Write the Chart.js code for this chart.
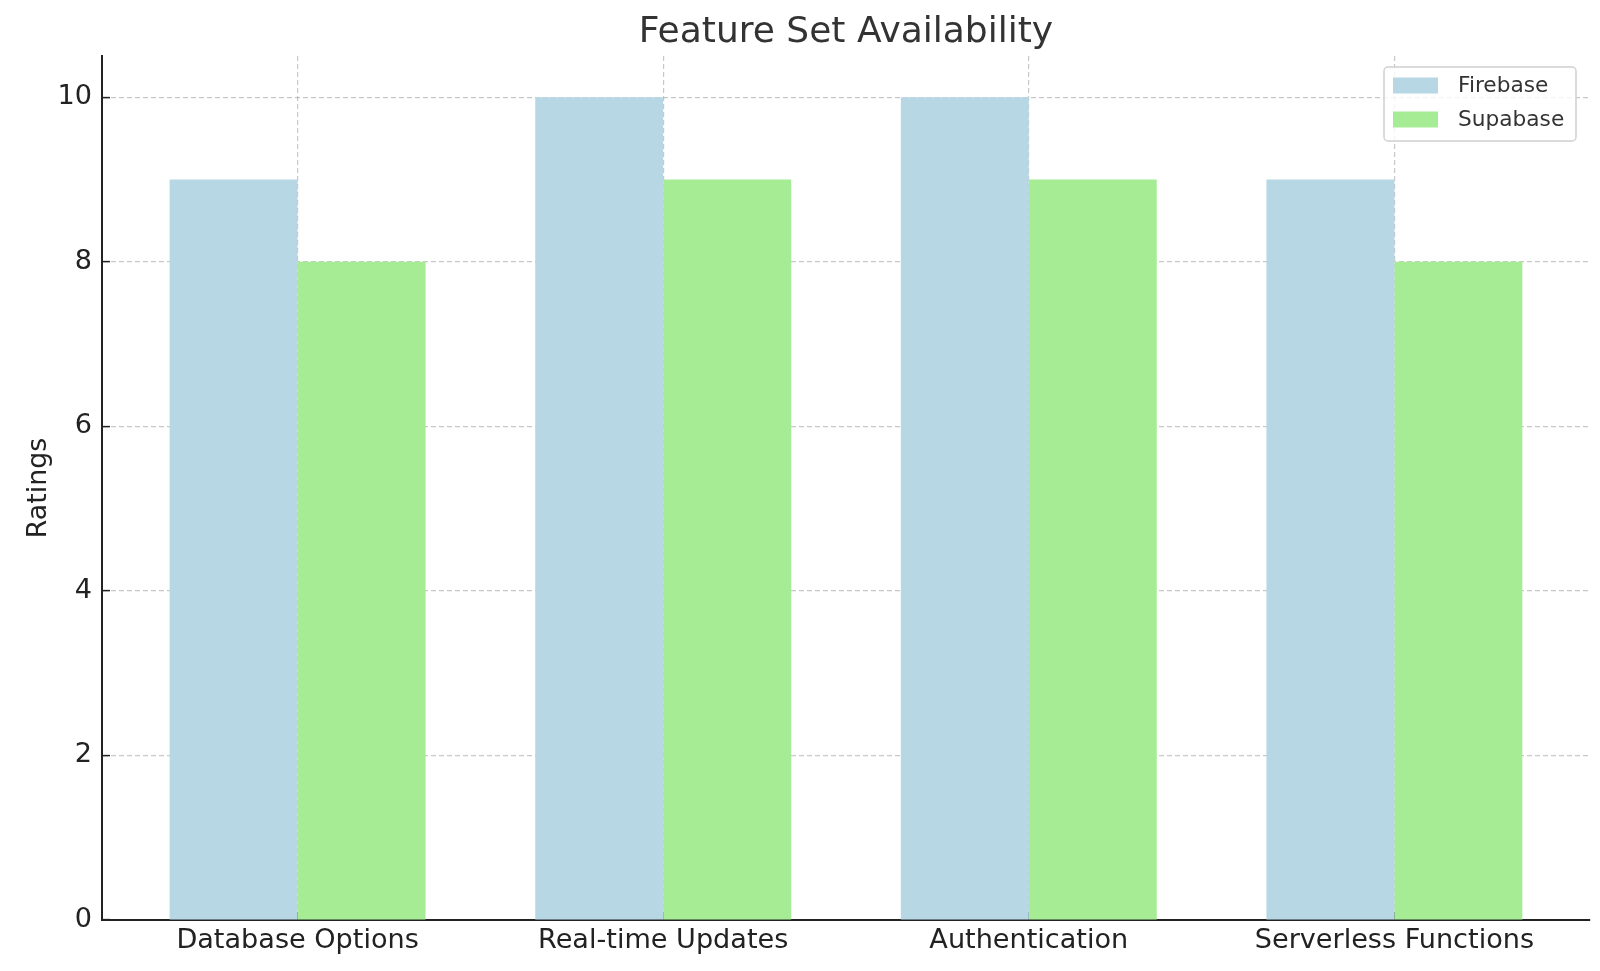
<!DOCTYPE html>
<html>
<head>
<meta charset="utf-8">
<script src="https://cdn.jsdelivr.net/npm/chart.js@4.4.1/dist/chart.umd.min.js"></script>
<style>
  html, body { margin: 0; padding: 0; background: #fff; }
  #wrap { width: 1600px; height: 971px; }
</style>
</head>
<body>
<div id="wrap"><canvas id="c" width="1600" height="971"></canvas></div>
<script>
const categories = ["Database Options", "Real-time Updates", "Authentication", "Serverless Functions"];
const firebase = [9, 10, 10, 9];
const supabase = [8, 9, 9, 8];
const yTicks = [0, 2, 4, 6, 8, 10];
const seriesNames = ["Firebase", "Supabase"];
const chartTitle = "Feature Set Availability";
const yTitle = "Ratings";

const FONT = "'DejaVu Sans', sans-serif";
const colors = ["#B6D7E3", "#A6EC95"];
const gridColor = "rgba(170,170,170,0.65)";

const overlay = {
  id: 'overlay',
  afterDraw(chart) {
    const ctx = chart.ctx;
    const a = chart.chartArea;
    ctx.save();
    // title
    ctx.fillStyle = '#333';
    ctx.font = "36px " + FONT;
    ctx.textAlign = 'center';
    ctx.textBaseline = 'alphabetic';
    ctx.fillText(chartTitle, (a.left + a.right) / 2, 42);
    // y title
    ctx.save();
    ctx.translate(46, (a.top + a.bottom) / 2);
    ctx.rotate(-Math.PI / 2);
    ctx.font = "26.8px " + FONT;
    ctx.fillStyle = '#222';
    ctx.textAlign = 'center';
    ctx.textBaseline = 'alphabetic';
    ctx.fillText(yTitle, 0, 0);
    ctx.restore();
    // legend
    const bx = a.right - 206, by = a.top + 11, bw = 192, bh = 74;
    ctx.beginPath();
    ctx.roundRect(bx, by, bw, bh, 4);
    ctx.fillStyle = 'rgba(255,255,255,0.8)';
    ctx.fill();
    ctx.lineWidth = 1.5;
    ctx.strokeStyle = '#d0d0d0';
    ctx.stroke();
    ctx.font = "21.7px " + FONT;
    ctx.textAlign = 'left';
    ctx.textBaseline = 'middle';
    chart.data.datasets.forEach((ds, i) => {
      const cy = by + 18.5 + i * 34;
      ctx.fillStyle = ds.backgroundColor;
      ctx.fillRect(bx + 9, cy - 8, 45, 16);
      ctx.fillStyle = '#333';
      ctx.fillText(ds.label, bx + 74, cy + 1);
    });
    ctx.restore();
  }
};

const datasets = [firebase, supabase].map((vals, i) => ({
  label: seriesNames[i],
  data: vals.map((v, j) => ({ x: j, y: v })),
  backgroundColor: colors[i],
  borderWidth: 0,
  categoryPercentage: 0.7,
  barPercentage: 1.0
}));

new Chart(document.getElementById('c'), {
  type: 'bar',
  data: { datasets },
  plugins: [overlay],
  options: {
    responsive: false,
    animation: false,
    devicePixelRatio: 1,
    layout: { padding: { top: 56, right: 10, left: 0, bottom: 0 } },
    plugins: { legend: { display: false }, title: { display: false }, tooltip: { enabled: false } },
    scales: {
      x: {
        type: 'linear',
        min: -0.535,
        max: 3.535,
        offset: false,
        z: 1,
        afterBuildTicks(s) { s.ticks = categories.map((c, i) => ({ value: i })); },
        afterFit(s) { s.height = 51; },
        ticks: {
          autoSkip: false, maxRotation: 0, padding: 13,
          color: '#222',
          font: { family: FONT, size: 27.1 },
          callback: (v) => categories[v]
        },
        grid: { offset: false, color: gridColor, lineWidth: 1.2, tickColor: '#222', tickLength: -8, tickWidth: 1.5 },
        border: { display: true, color: '#222', width: 2, dash: [5, 3] }
      },
      y: {
        type: 'linear',
        min: 0,
        max: 10.5,
        z: 1,
        afterBuildTicks(s) { s.ticks = yTicks.map(v => ({ value: v })); },
        afterFit(s) { s.width = 102; },
        ticks: {
          padding: 18,
          color: '#222',
          font: { family: FONT, size: 27.1 }
        },
        grid: { color: gridColor, lineWidth: 1.2, tickColor: '#222', tickLength: -8, tickWidth: 1.5 },
        border: { display: true, color: '#222', width: 2, dash: [5, 3] }
      }
    }
  }
});
</script>
</body>
</html>
